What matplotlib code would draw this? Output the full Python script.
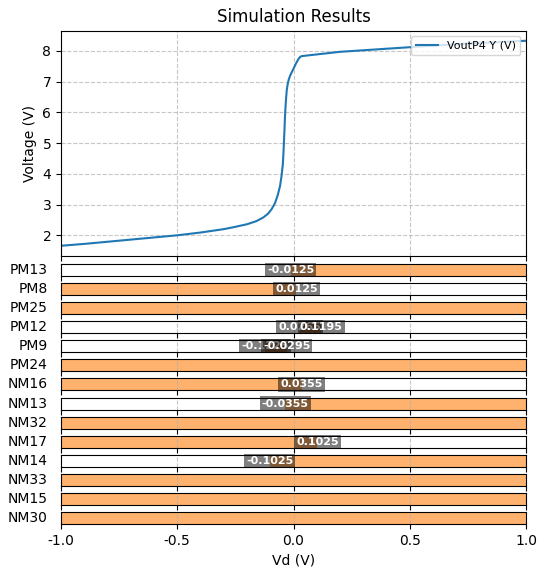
import numpy as np
import matplotlib.pyplot as plt

plt.rcParams['axes.unicode_minus'] = False

# Output voltage sweep
vd = [-1.0, -0.9, -0.8, -0.7, -0.6, -0.5, -0.4, -0.3, -0.26, -0.2, -0.16,
      -0.13, -0.11, -0.095, -0.08, -0.068, -0.058, -0.052, -0.046, -0.043,
      -0.041, -0.039, -0.037, -0.035, -0.032, -0.029, -0.025, -0.02, -0.013,
      -0.006, 0.0, 0.01, 0.02, 0.028, 0.035, 0.2, 0.5, 0.75, 1.0]
vout = [1.66, 1.72, 1.79, 1.86, 1.93, 2.0, 2.09, 2.2, 2.26, 2.36, 2.46,
        2.58, 2.7, 2.84, 3.04, 3.3, 3.6, 3.9, 4.3, 4.7,
        5.05, 5.4, 5.8, 6.1, 6.45, 6.72, 6.92, 7.08, 7.22,
        7.33, 7.42, 7.58, 7.72, 7.8, 7.83, 7.97, 8.12, 8.24, 8.33]

# Transistor region bands: (start, end) of shaded spans, and transition labels
devices = ['PM13', 'PM8', 'PM25', 'PM12', 'PM9', 'PM24', 'NM16',
           'NM13', 'NM32', 'NM17', 'NM14', 'NM33', 'NM15', 'NM30']
spans = [
    [(-0.0125, 1.0)],
    [(-1.0, 0.0125)],
    [(-1.0, 1.0)],
    [(0.0265, 0.1195)],
    [(-0.1225, -0.0295)],
    [(-1.0, 1.0)],
    [(-1.0, 0.0355)],
    [(-0.0355, 1.0)],
    [(-1.0, 1.0)],
    [(-1.0, 0.1025)],
    [(-0.1025, 1.0)],
    [(-1.0, 1.0)],
    [(-1.0, 1.0)],
    [(-1.0, 1.0)],
]
transitions = [
    [-0.0125], [0.0125], [], [0.0265, 0.1195], [-0.1225, -0.0295], [],
    [0.0355], [-0.0355], [], [0.1025], [-0.1025], [], [], [],
]

W, H = 546, 576
fig = plt.figure(figsize=(W / 100, H / 100), dpi=100)

left = 61 / W
width = 465 / W

# Main voltage plot
ax = fig.add_axes([left, 1 - 256 / H, width, 225.5 / H])
ax.plot(vd, vout, color='tab:blue', linewidth=1.5, label='VoutP4 Y (V)')
ax.set_xlim(-1, 1)
ax.set_ylabel('Voltage (V)')
ax.set_title('Simulation Results')
ax.grid(True, linestyle='--', alpha=0.7)
ax.legend(loc='upper right', fontsize=8)
ax.set_xticks([-1.0, -0.5, 0.0, 0.5, 1.0])
ax.tick_params(labelbottom=False)

# Operating region strips
for i, name in enumerate(devices):
    top_px = 264 + 19.08 * i
    bx = fig.add_axes([left, 1 - (top_px + 12) / H, width, 12 / H])
    for x0, x1 in spans[i]:
        bx.axvspan(x0, x1, color='tab:orange', alpha=0.6, linewidth=0)
    for xt in transitions[i]:
        bx.text(xt, 0.5, f'{xt:g}', transform=bx.get_xaxis_transform(),
                ha='center', va='center', fontsize=8, fontweight='bold',
                color='white',
                bbox=dict(facecolor='black', alpha=0.5, edgecolor='none', pad=1.5))
    bx.set_xlim(-1, 1)
    bx.set_ylim(0, 1)
    bx.set_yticks([])
    bx.set_xticks([-1.0, -0.5, 0.0, 0.5, 1.0])
    bx.grid(True, axis='x', linestyle='--', alpha=0.7)
    bx.text(-0.028, 0.5, name, transform=bx.transAxes, ha='right', va='center',
            fontsize=10)
    if i < len(devices) - 1:
        bx.tick_params(labelbottom=False)
    else:
        bx.set_xlabel('Vd (V)')

fig.savefig('out.png', dpi=100)
